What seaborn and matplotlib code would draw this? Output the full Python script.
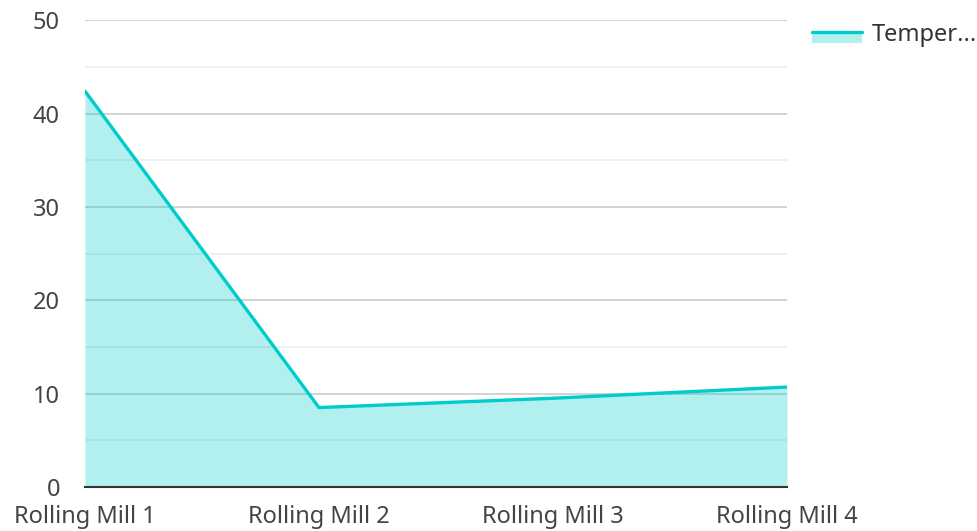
import pandas as pd
import matplotlib.pyplot as plt
import seaborn as sns
from matplotlib.lines import Line2D
from matplotlib.patches import Patch, Rectangle
from matplotlib.legend_handler import HandlerBase
from matplotlib.ticker import MultipleLocator

# Data
mills = ['Rolling Mill 1', 'Rolling Mill 2', 'Rolling Mill 3', 'Rolling Mill 4']
temperature = [42.4, 8.5, 9.5, 10.7]
series_name = 'Temper...'

line_color = '#00cccc'
fill_alpha = 0.3


class AreaHandler(HandlerBase):
    # line on top, translucent fill below, like a tiny area chart
    def create_artists(self, legend, orig_handle, xdescent, ydescent,
                       width, height, fontsize, trans):
        top = height * 0.6
        rect = Rectangle((-xdescent, top - 8), width, 8,
                         facecolor=line_color, alpha=fill_alpha,
                         edgecolor='none', transform=trans)
        line = Line2D([-xdescent, -xdescent + width], [top, top],
                      color=line_color, linewidth=2.4, transform=trans)
        return [rect, line]


sns.set_style('white')
plt.rcParams['font.family'] = ['Noto Sans', 'DejaVu Sans']

df = pd.DataFrame({'mill': mills, 'value': temperature})
df['pos'] = range(len(df))

fig = plt.figure(figsize=(9.77, 5.31), dpi=100)
ax = fig.add_axes([0.087, 0.083, 0.7185, 0.879])

ax.set_axisbelow(True)
ax.yaxis.set_major_locator(MultipleLocator(10))
ax.yaxis.set_minor_locator(MultipleLocator(5))
ax.grid(axis='y', which='major', color='#c8c8c8', linewidth=1.1)
ax.grid(axis='y', which='minor', color='#ebebeb', linewidth=1.1)

ax.fill_between(df['pos'], df['value'], 0, color=line_color, alpha=fill_alpha, linewidth=0)
sns.lineplot(data=df, x='pos', y='value', color=line_color, linewidth=2.4, ax=ax)

ax.set_xlim(0, len(mills) - 1)
ax.set_ylim(0, 50)
ax.set_xticks(df['pos'])
ax.set_xticklabels(mills)
ax.set_xlabel('')
ax.set_ylabel('')

for s in ['top', 'right', 'left']:
    ax.spines[s].set_visible(False)
ax.spines['bottom'].set_color('#333333')
ax.spines['bottom'].set_linewidth(1.5)

ax.tick_params(axis='both', which='both', length=0, labelsize=17, colors='#444444')
ax.tick_params(axis='y', pad=18)
ax.tick_params(axis='x', pad=13)

ax.legend([Patch()], [series_name], handler_map={Patch: AreaHandler()},
          loc='upper left', bbox_to_anchor=(1.0356, 0.993),
          frameon=False, fontsize=17, handlelength=2.1, handletextpad=0.42,
          labelcolor='#333333', borderaxespad=0.0, borderpad=0.0)

fig.savefig('out.png', dpi=100)
